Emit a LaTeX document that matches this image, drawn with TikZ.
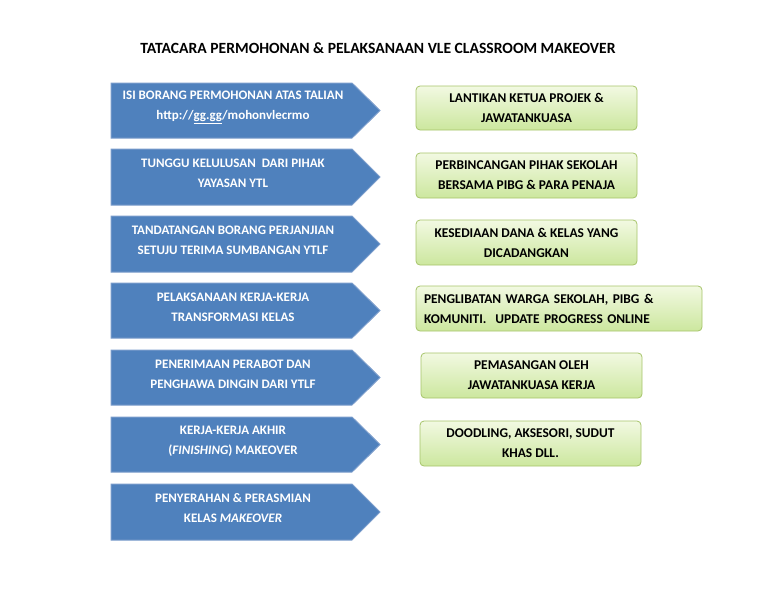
\documentclass[tikz,border=0pt]{standalone}
\usepackage{fontspec}
\setmainfont{Carlito}
\begin{document}
\begin{tikzpicture}[x=1pt,y=-1pt,
  arr/.style={fill=blueA,draw=blueB,line width=1pt},
  atext/.style={text=white,font=\bfseries\fontsize{13}{20}\selectfont,align=center},
  gbox/.style={draw=greenB,line width=0.8pt,rounded corners=4pt,top color=greenT,bottom color=greenBt,
    font=\bfseries\fontsize{13.4}{20}\selectfont,align=center,inner sep=2pt}]
\definecolor{blueA}{HTML}{4F81BD}
\definecolor{blueB}{HTML}{7A9CCB}
\definecolor{greenB}{HTML}{A6C46A}
\definecolor{greenT}{HTML}{F2F9E2}
\definecolor{greenBt}{HTML}{CCE79E}
\useasboundingbox (0,0) rectangle (768,594);
\node[font=\bfseries\fontsize{15.6}{18}\selectfont] (title) at (378,48) {TATACARA PERMOHONAN \& PELAKSANAAN VLE CLASSROOM MAKEOVER};
\foreach \i/\t/\b/\txt in {
 1/83/138/{ISI BORANG PERMOHONAN ATAS TALIAN\\http://\underline{gg.gg}/mohonvlecrmo},
 2/149/205/{TUNGGU KELULUSAN\ \ DARI PIHAK\\YAYASAN YTL},
 3/216/272/{TANDATANGAN BORANG PERJANJIAN\\SETUJU TERIMA SUMBANGAN YTLF},
 4/283/338/{PELAKSANAAN KERJA-KERJA\\TRANSFORMASI KELAS},
 5/350/405/{PENERIMAAN PERABOT DAN\\PENGHAWA DINGIN DARI YTLF},
 6/417/472/{KERJA-KERJA AKHIR\\(\textit{FINISHING}) MAKEOVER},
 7/484/540/{PENYERAHAN \& PERASMIAN\\KELAS \textit{MAKEOVER}}}{
  \draw[arr] (111,\t) -- (352,\t) -- (380,{(\t+\b)/2}) -- (352,\b) -- (111,\b) -- cycle;
  \node[atext] (a\i) at (233,\t+24) {\txt};
}
\node[gbox,minimum width=221pt,minimum height=44pt] (g1) at (526.5,108) {LANTIKAN KETUA PROJEK \&\\JAWATANKUASA};
\node[gbox,minimum width=221pt,minimum height=45pt] (g2) at (526.5,175.5) {PERBINCANGAN PIHAK SEKOLAH\\BERSAMA PIBG \& PARA PENAJA};
\node[gbox,minimum width=221pt,minimum height=45pt] (g3) at (526.5,242.5) {KESEDIAAN DANA \& KELAS YANG\\DICADANGKAN};
\node[gbox,text width=270pt,inner xsep=8pt,minimum height=45pt,align=left] (g4) at (559,308.5) {PENGLIBATAN WARGA SEKOLAH, PIBG \&\\KOMUNITI.\ \ UPDATE PROGRESS ONLINE};
\node[gbox,minimum width=221pt,minimum height=45pt] (g5) at (531.5,375.5) {PEMASANGAN OLEH\\JAWATANKUASA KERJA};
\node[gbox,minimum width=221pt,minimum height=45pt] (g6) at (530.5,443.5) {DOODLING, AKSESORI, SUDUT\\KHAS DLL.};
\end{tikzpicture}
\end{document}
